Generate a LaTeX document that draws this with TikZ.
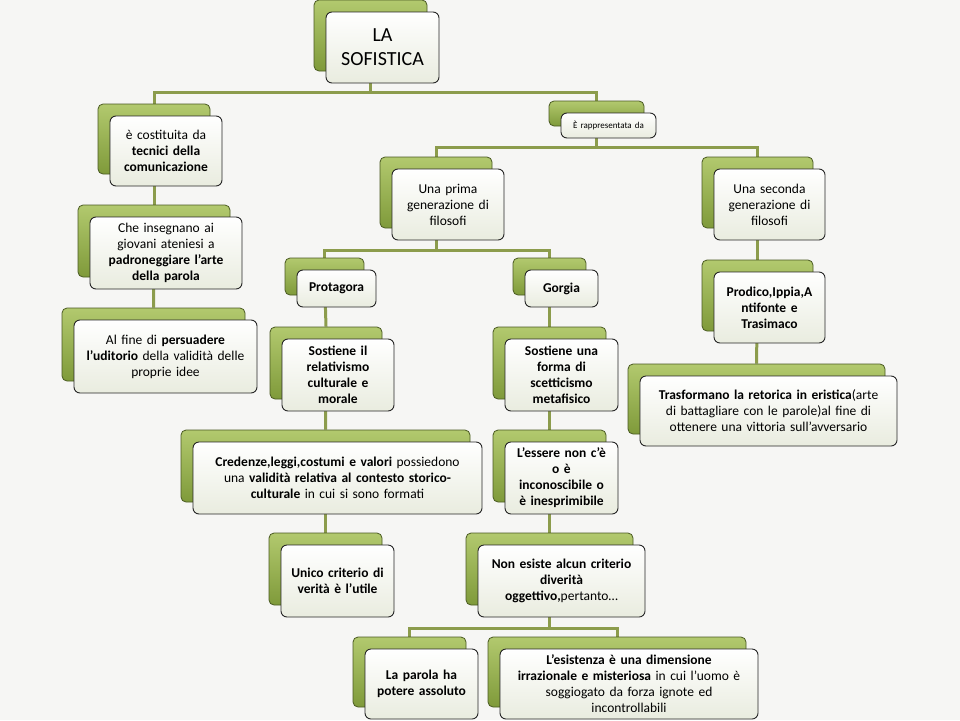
\documentclass[tikz,border=0pt]{standalone}
\usepackage{fontspec}
\setmainfont{Carlito}
\usetikzlibrary{backgrounds}
\definecolor{bgc}{HTML}{F6F6F4}
\definecolor{gtop}{HTML}{B2C96E}
\definecolor{gbot}{HTML}{7F9A3A}
\definecolor{gdraw}{HTML}{4A5A22}
\definecolor{lnc}{HTML}{8C9C4C}
\definecolor{wbot}{HTML}{E9ECDF}
\tikzset{
  gbox/.style={rectangle,rounded corners=5pt,draw=gdraw,line width=0.8pt,top color=gtop,bottom color=gbot,inner sep=0pt},
  wbox/.style={rectangle,rounded corners=6pt,draw=black!85,line width=0.9pt,top color=white,bottom color=wbot,inner sep=2pt,align=center,font=\fontsize{13.5}{16}\selectfont},
  bigtxt/.style={font=\fontsize{20}{24}\selectfont},
  smalltxt/.style={font=\fontsize{9}{10}\selectfont},
  conn/.style={draw=lnc,line width=3pt}
}
\newcommand\smb[7][]{%
  \node[gbox,minimum width={(#4-#2)*1pt},minimum height={(#5-#3)*1pt}] (g#2) at ({(#3+#5)/2},{(#4+#6)/2}) {};
}
\newcommand\smbox[7][]{%
  \node[gbox,minimum width={(#5-#3)*1pt},minimum height={(#6-#4)*1pt}] (g#2) at ({(#3+#5)/2},{(#4+#6)/2}) {};
  \node[wbox,#1,minimum width={(#5-#3)*1pt},minimum height={(#6-#4)*1pt},text width={(#5-#3-6)*1pt}] (w#2) at ({(#3+#5)/2+12},{(#4+#6)/2+12}) {#7};
}
\begin{document}
\begin{tikzpicture}[x=1pt,y=-1pt]
\useasboundingbox (0,0) rectangle (960,720);
\smbox[bigtxt]{A}{314}{0}{427}{71}{LA\\SOFISTICA}
\smbox{B}{98}{104}{210}{174}{è costituita da\\\textbf{tecnici della}\\\textbf{comunicazione}}
\smbox{C}{78}{205}{230}{277}{Che insegnano ai\\giovani ateniesi a\\\textbf{padroneggiare l’arte}\\\textbf{della parola}}
\smbox{D}{62}{308}{245}{381}{Al fine di \textbf{persuadere}\\\textbf{l’uditorio} della validità delle\\proprie idee}
\smbox[smalltxt]{E}{549}{101}{644}{126}{È rappresentata da}
\smbox{F}{380}{157}{492}{228}{Una prima\\generazione di\\filosofi}
\smbox{G}{702}{157}{813}{228}{Una seconda\\generazione di\\filosofi}
\smbox{H}{285}{258}{364}{295}{\textbf{Protagora}}
\smbox{I}{513}{258}{586}{295}{\textbf{Gorgia}}
\smbox{J}{270}{327}{382}{399}{\textbf{Sostiene il}\\\textbf{relativismo}\\\textbf{culturale e}\\\textbf{morale}}
\smbox{K}{493}{327}{606}{399}{\textbf{Sostiene una}\\\textbf{forma di}\\\textbf{scetticismo}\\\textbf{metafisico}}
\smbox{L}{181}{430}{470}{502}{\textbf{Credenze,leggi,costumi e valori} possiedono\\una \textbf{validità relativa al contesto storico-}\\\textbf{culturale} in cui si sono formati}
\smbox{M}{493}{430}{606}{502}{\textbf{L’essere non c’è}\\\textbf{o è}\\\textbf{inconoscibile o}\\\textbf{è inesprimibile}}
\smbox{N}{269}{533}{382}{605}{\textbf{Unico criterio di}\\\textbf{verità è l’utile}}
\smbox{O}{466}{533}{633}{605}{\textbf{Non esiste alcun criterio}\\\textbf{diverità}\\\textbf{oggettivo,}pertanto…}
\smbox{P}{353}{637}{466}{707}{\textbf{La parola ha}\\\textbf{potere assoluto}}
\smbox{Q}{488}{637}{746}{707}{\textbf{L’esistenza è una dimensione}\\\textbf{irrazionale e misteriosa} in cui l’uomo è\\soggiogato da forza ignote ed\\incontrollabili}
\smbox{R}{702}{260}{813}{331}{\textbf{Prodico,Ippia,A}\\\textbf{ntifonte e}\\\textbf{Trasimaco}}
\smbox{S}{628}{364}{885}{434}{\textbf{Trasformano la retorica in eristica}(arte\\di battagliare con le parole)al fine di\\ottenere una vittoria sull’avversario}
\begin{pgfonlayer}{background}
\fill[bgc] (0,0) rectangle (960,720);
\path[conn] (gA.center) -- (gA.center |- 0,92) -| (gB.north);
\path[conn] (gA.center |- 0,92) -| (gE.north);
\path[conn] (gB.center) -- (gC.north);
\path[conn] (gC.center) -- (gD.north);
\path[conn] (gE.center) -- (gE.center |- 0,147) -| (gF.north);
\path[conn] (gE.center |- 0,147) -| (gG.north);
\path[conn] (gF.center) -- (gF.center |- 0,250) -| (gH.north);
\path[conn] (gF.center |- 0,250) -| (gI.north);
\path[conn] (gH.center) -- (gJ.north);
\path[conn] (gI.center) -- (gK.north);
\path[conn] (gJ.center) -- (gL.north);
\path[conn] (gK.center) -- (gM.north);
\path[conn] (gL.center) -- (gN.north);
\path[conn] (gM.center) -- (gO.north);
\path[conn] (gO.center) -- (gO.center |- 0,628) -| (gP.north);
\path[conn] (gO.center |- 0,628) -| (gQ.north);
\path[conn] (gG.center) -- (gR.north);
\path[conn] (gR.center) -- (gS.north);
\end{pgfonlayer}
\end{tikzpicture}
\end{document}
